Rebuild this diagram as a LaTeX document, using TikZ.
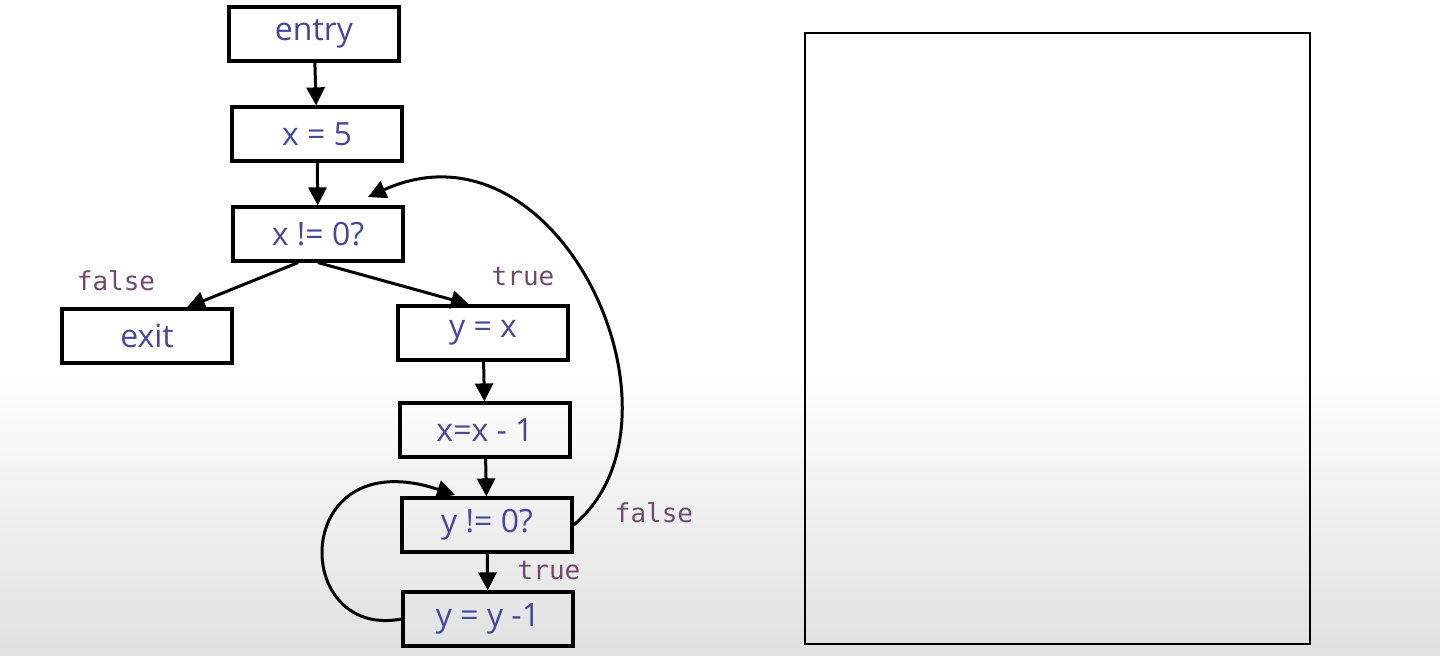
\documentclass[tikz,border=0pt]{standalone}
\usepackage{fontspec}
\setmainfont{Open Sans}
\setmonofont{DejaVu Sans Mono}
\usetikzlibrary{arrows.meta}
\definecolor{ink}{RGB}{70,70,160}
\definecolor{lab}{RGB}{110,75,110}
\begin{document}
\begin{tikzpicture}[x=0.5pt,y=-0.5pt,
 box/.style={draw,line width=1.6pt,minimum width=85pt,minimum height=27pt,inner sep=0pt,text=ink,font=\fontsize{16}{18}\selectfont},
 edge/.style={line width=1.5pt,-{Triangle[length=9pt,width=9pt]}},
 lbl/.style={text=lab,font=\ttfamily\fontsize{13}{15}\selectfont}]
\useasboundingbox (0,0) rectangle (1440,655);
\shade[top color=white,bottom color=black!12] (0,370) rectangle (1440,655);
\node[box] (entry) at (314,34) {entry};
\node[box] (x5) at (317,134) {x = 5};
\node[box] (c1) at (318,234) {x != 0?};
\node[box] (exit) at (147,336) {exit};
\node[box] (yx) at (483,333) {y = x};
\node[box] (xm) at (485,430) {x=x - 1};
\node[box] (c2) at (487,525) {y != 0?};
\node[box] (ym) at (488,619) {y = y -1};
\draw[line width=1.3pt] (805,33) rectangle (1310,644);
\coordinate (top1) at (368,197);
\coordinate (top2) at (455,495);
\draw[edge] (entry) -- (x5);
\draw[edge] (x5) -- (c1);
\draw[edge] ([xshift=-10pt]c1.south) -- ([xshift=20pt]exit.north);
\draw[edge] (c1.south) -- ([xshift=-7pt]yx.north);
\draw[edge] (yx) -- (xm);
\draw[edge] (xm) -- (c2);
\draw[edge] (c2) -- (ym);
\draw[edge] (c2.east) .. controls (700,420) and (560,110) .. (top1);
\draw[edge] (ym.west) .. controls (290,640) and (290,440) .. (top2);
\node[lbl] (lf) at (116,281) {false};
\node[lbl] (lt) at (523,277) {true};
\node[lbl] (lf2) at (654,513) {false};
\node[lbl] (lt2) at (549,571) {true};
\end{tikzpicture}
\end{document}
